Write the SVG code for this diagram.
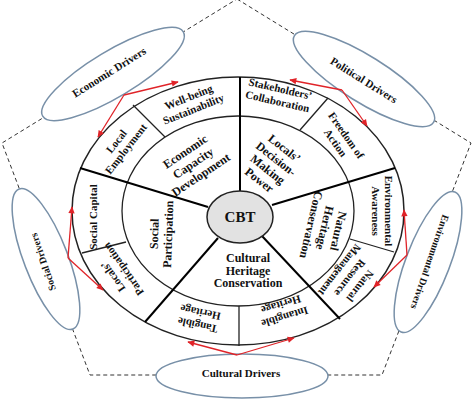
<svg xmlns="http://www.w3.org/2000/svg" width="474" height="400" viewBox="0 0 474 400">
<style>
.bg{fill:#ffffff}
.pent{fill:none;stroke:#333;stroke-width:1;stroke-dasharray:4 3}
.drv{fill:#ffffff;stroke:#7890a8;stroke-width:1.5}
.ring{fill:none;stroke:#222;stroke-width:1.5}
.thick{stroke:#000;stroke-width:2;fill:none}
.thin{stroke:#222;stroke-width:1.3;fill:none}
.red{stroke:#e02328;stroke-width:1.3;fill:none;marker-end:url(#ah)}
text{font-family:"Liberation Serif","Times New Roman",serif;font-weight:bold;fill:#111;text-anchor:middle}
.o{font-size:11px}
.i{font-size:12px}
.d{font-size:11px}
.ds{font-size:10px}
</style>
<defs>
<marker id="ah" viewBox="0 0 10 10" refX="9" refY="5" markerWidth="8" markerHeight="7" markerUnits="userSpaceOnUse" orient="auto">
<path d="M0,0.5 L10,5 L0,9.5 z" fill="#e02328"/>
</marker>
</defs>
<rect class="bg" x="0" y="0" width="474" height="400"/>

<g id="frame">
<path class="pent" d="M237,-1 L471,143 L382,375 L90,375 L2,143 Z"/>
</g>

<g id="economic-drivers">
<ellipse class="drv" cx="113" cy="74" rx="82" ry="23" transform="rotate(-31 113 74)"/>
<text class="d" transform="translate(109,72) rotate(-32)" y="4">Economic Drivers</text>
</g>
<g id="political-drivers">
<ellipse class="drv" cx="364" cy="79" rx="82" ry="23" transform="rotate(32 364 79)"/>
<text class="d" transform="translate(364,80) rotate(32)" y="4">Political Drivers</text>
</g>
<g id="environmental-drivers">
<ellipse class="drv" cx="428" cy="262" rx="75" ry="22" transform="rotate(111 428 262)"/>
<text class="ds" transform="translate(430,262) rotate(109)" y="3.5">Environmental Drivers</text>
</g>
<g id="cultural-drivers">
<ellipse class="drv" cx="242" cy="376" rx="86" ry="22"/>
<text class="d" x="241" y="377">Cultural Drivers</text>
</g>
<g id="social-drivers">
<ellipse class="drv" cx="46" cy="259" rx="75" ry="22" transform="rotate(69 46 259)"/>
<text class="ds" transform="translate(43,262) rotate(-109)" y="3.5">Social Drivers</text>
</g>

<g id="wheel">
<ellipse class="ring" cx="238" cy="211" rx="166" ry="134"/>
<ellipse class="ring" cx="238" cy="211" rx="116" ry="95" style="stroke-width:1.3"/>
<line class="thick" x1="240" y1="191" x2="240" y2="77"/>
<line class="thick" x1="208" y1="207" x2="80" y2="168"/>
<line class="thick" x1="272" y1="205" x2="395" y2="168"/>
<line class="thick" x1="262" y1="236" x2="340" y2="319"/>
<line class="thick" x1="218" y1="238" x2="145" y2="322"/>
<line class="thin" x1="133" y1="105" x2="165" y2="137"/>
<line class="thin" x1="328" y1="98" x2="300" y2="130"/>
<line class="thin" x1="350" y1="239" x2="394" y2="252"/>
<line class="thin" x1="239" y1="306" x2="239" y2="346"/>
<line class="thin" x1="82" y1="253" x2="126" y2="242"/>
</g>

<g id="cbt">
<ellipse cx="240" cy="217" rx="33" ry="26" fill="#e2e2e2" stroke="#222" stroke-width="1.5"/>
<text x="240" y="222" style="font-size:15px">CBT</text>
</g>

<g id="well-being">
<text class="o" transform="translate(191,103) rotate(-22)"><tspan x="0" y="-2.6">Well-being</tspan><tspan x="0" y="10.4">Sustainability</tspan></text>
</g>
<g id="local-employment">
<text class="o" transform="translate(121,145) rotate(-52)"><tspan x="0" y="-2.1">Local</tspan><tspan x="0" y="9.9">Employment</tspan></text>
</g>
<g id="stakeholders">
<text class="o" transform="translate(279,95) rotate(13)"><tspan x="0" y="-2.6">Stakeholders’</tspan><tspan x="0" y="10.4">Collaboration</tspan></text>
</g>
<g id="freedom">
<text class="o" transform="translate(341,139) rotate(55)"><tspan x="0" y="-2.6">Freedom of</tspan><tspan x="0" y="10.4">Action</tspan></text>
</g>
<g id="env-awareness">
<text class="o" transform="translate(382,211) rotate(90)"><tspan x="0" y="-2.6">Environmental</tspan><tspan x="0" y="10.4">Awareness</tspan></text>
</g>
<g id="natural-resource">
<text class="o" transform="translate(350,278) rotate(128)"><tspan x="0" y="-9.1">Natural</tspan><tspan x="0" y="3.9">Resource</tspan><tspan x="0" y="16.9">Management</tspan></text>
</g>
<g id="intangible">
<text class="o" transform="translate(283,311) rotate(163)"><tspan x="0" y="-2.6">Intangible</tspan><tspan x="0" y="10.4">Heritage</tspan></text>
</g>
<g id="tangible">
<text class="o" transform="translate(199,319) rotate(-168)"><tspan x="0" y="-2.6">Tangible</tspan><tspan x="0" y="10.4">Heritage</tspan></text>
</g>
<g id="locals-participation">
<text class="o" transform="translate(118,273) rotate(-125)"><tspan x="0" y="-2.6">Locals’</tspan><tspan x="0" y="10.4">Participation</tspan></text>
</g>
<g id="social-capital">
<text class="o" transform="translate(93,217) rotate(-90)" y="3.9">Social Capital</text>
</g>

<g id="economic-capacity">
<text class="i" transform="translate(193,163) rotate(-34)"><tspan x="0" y="-9.8">Economic</tspan><tspan x="0" y="4.2">Capacity</tspan><tspan x="0" y="18.2">Development</tspan></text>
</g>
<g id="decision-making">
<text class="i" transform="translate(272,164) rotate(38)"><tspan x="0" y="-16">Locals’</tspan><tspan x="0" y="-2.5">Decision-</tspan><tspan x="0" y="11">Making</tspan><tspan x="0" y="24.5">Power</tspan></text>
</g>
<g id="natural-heritage">
<text class="i" transform="translate(325,228) rotate(103)"><tspan x="0" y="-9.8">Natural</tspan><tspan x="0" y="4.2">Heritage</tspan><tspan x="0" y="18.2">Conservation</tspan></text>
</g>
<g id="cultural-heritage">
<text class="i"><tspan x="248" y="262">Cultural</tspan><tspan x="248" y="274.5">Heritage</tspan><tspan x="248" y="287">Conservation</tspan></text>
</g>
<g id="social-participation">
<text class="i" transform="translate(161,234) rotate(-88)"><tspan x="0" y="-2.8">Social</tspan><tspan x="0" y="11.2">Participation</tspan></text>
</g>

<g id="connectors">
<line class="red" x1="124" y1="95" x2="178" y2="82"/>
<line class="red" x1="124" y1="95" x2="98" y2="137"/>
<line class="red" x1="342" y1="90" x2="290" y2="80"/>
<line class="red" x1="342" y1="90" x2="367" y2="126"/>
<line class="red" x1="407" y1="255" x2="404" y2="210"/>
<line class="red" x1="407" y1="255" x2="374" y2="287"/>
<line class="red" x1="237" y1="355" x2="188" y2="342"/>
<line class="red" x1="237" y1="355" x2="294" y2="338"/>
<line class="red" x1="68" y1="258" x2="72" y2="207"/>
<line class="red" x1="68" y1="258" x2="103" y2="290"/>
</g>
</svg>
